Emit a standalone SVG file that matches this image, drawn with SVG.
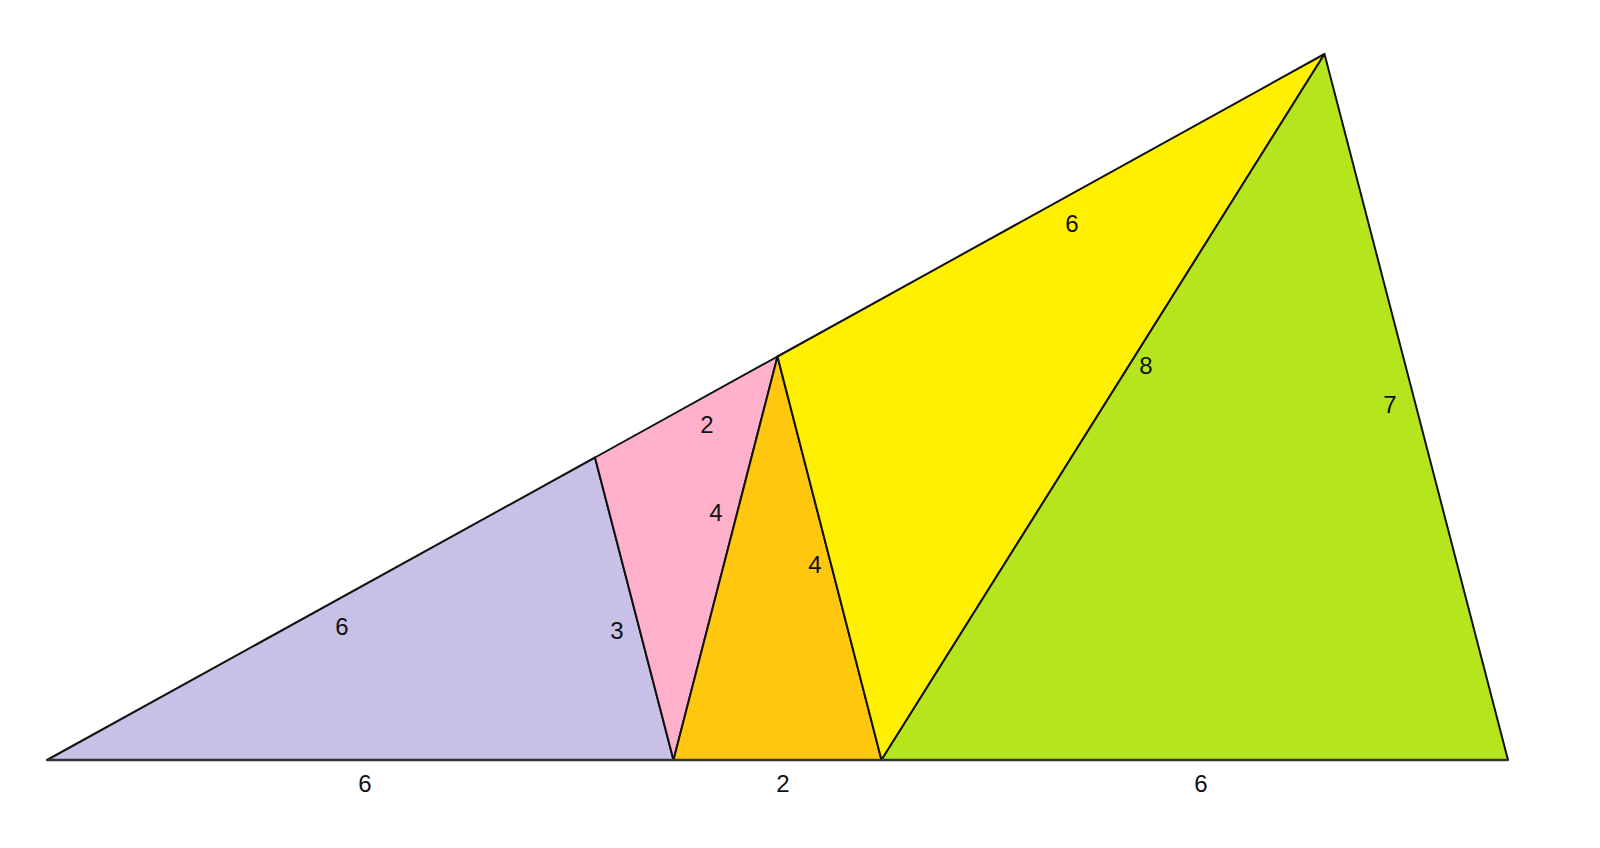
<svg xmlns="http://www.w3.org/2000/svg" width="1600" height="848" viewBox="0 0 1600 848">
<style>
.t{stroke:#111;stroke-width:2;stroke-linejoin:round}
.lbl{font-family:"Liberation Sans",Arial,sans-serif;font-size:24px;fill:#111;text-anchor:middle}
</style>
<rect width="1600" height="848" fill="#fff"/>
<g id="tri-lavender"><polygon class="t" fill="#C8C0E6" points="47,760 673.5,760 595,457.5"/></g>
<g id="tri-pink"><polygon class="t" fill="#FFB0CB" points="595,457.5 777.5,356.5 673.5,760"/></g>
<g id="tri-orange"><polygon class="t" fill="#FFC80E" points="673.5,760 777.5,356.5 881.5,760"/></g>
<g id="tri-yellow"><polygon class="t" fill="#FFF000" points="777.5,356.5 1324.5,54 881.5,760"/></g>
<g id="tri-green"><polygon class="t" fill="#B5E61D" points="881.5,760 1324.5,54 1508,760"/></g>
<g id="connectors">
<line x1="47" y1="760" x2="1508" y2="760" stroke="#333" stroke-width="2.5"/>
</g>
<g id="labels">
<text class="lbl" x="342" y="635">6</text>
<text class="lbl" x="617" y="639">3</text>
<text class="lbl" x="707" y="433">2</text>
<text class="lbl" x="716" y="521">4</text>
<text class="lbl" x="815" y="573">4</text>
<text class="lbl" x="1072" y="232">6</text>
<text class="lbl" x="1146" y="374">8</text>
<text class="lbl" x="1390" y="413">7</text>
<text class="lbl" x="365" y="792">6</text>
<text class="lbl" x="783" y="792">2</text>
<text class="lbl" x="1201" y="792">6</text>
</g>
</svg>
